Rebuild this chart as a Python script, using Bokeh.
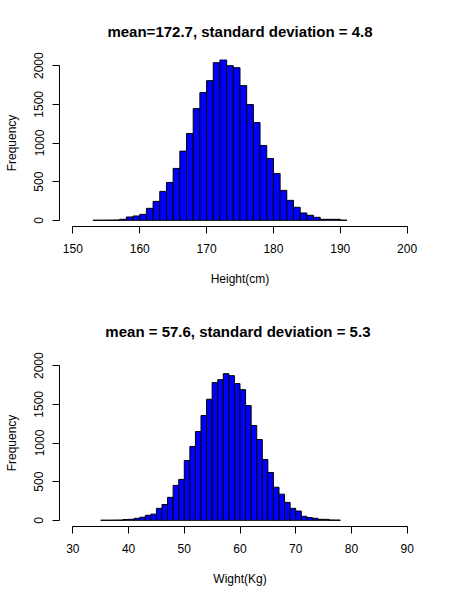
from bokeh.plotting import figure
from bokeh.models import Range1d, FixedTicker, ColumnDataSource
from bokeh.layouts import column
from bokeh.embed import file_html
from bokeh.resources import INLINE

# ---- data ----
height_edges = [153, 154, 155, 156, 157, 158, 159, 160, 161, 162, 163, 164, 165,
                166, 167, 168, 169, 170, 171, 172, 173, 174, 175, 176, 177, 178,
                179, 180, 181, 182, 183, 184, 185, 186, 187, 188, 189, 190, 191]
height_counts = [1, 1, 2, 4, 13, 43, 56, 77, 155, 245, 374, 490, 671, 895, 1123,
                 1445, 1652, 1806, 2039, 2077, 2000, 1974, 1742, 1497, 1264, 968,
                 800, 606, 387, 258, 168, 95, 65, 39, 13, 13, 13, 2]
height_ticks = [150, 160, 170, 180, 190, 200]

weight_edges = [35, 36, 37, 38, 39, 40, 41, 42, 43, 44, 45, 46, 47, 48, 49, 50,
                51, 52, 53, 54, 55, 56, 57, 58, 59, 60, 61, 62, 63, 64, 65, 66,
                67, 68, 69, 70, 71, 72, 73, 74, 75, 76, 77, 78]
weight_counts = [1, 1, 2, 3, 10, 13, 26, 40, 65, 80, 155, 204, 297, 452, 529,
                 774, 955, 1148, 1355, 1566, 1781, 1819, 1897, 1871, 1768, 1690,
                 1484, 1226, 1045, 787, 619, 428, 338, 232, 155, 120, 52, 36, 26,
                 13, 12, 4, 3]
weight_ticks = [30, 40, 50, 60, 70, 80, 90]

freq_ticks = [0, 500, 1000, 1500, 2000]

FONT = "Liberation Sans"


def make_hist(edges, counts, xticks, title, xlabel, fig_height, top_border, bottom_border):
    xlo, xhi = xticks[0], xticks[-1]
    pad = (xhi - xlo) * 0.04
    ylo, yhi = freq_ticks[0], freq_ticks[-1]
    ypad = (yhi - ylo) * 0.04
    p = figure(width=434, height=fig_height, output_backend="svg", toolbar_location=None,
               x_range=Range1d(xlo - pad, xhi + pad),
               y_range=Range1d(ylo - ypad, yhi + ypad),
               min_border_left=59, min_border_right=14,
               min_border_top=top_border, min_border_bottom=bottom_border,
               title=title)
    src = ColumnDataSource(dict(left=edges[:-1], right=edges[1:],
                                top=counts, bottom=[0] * len(counts)))
    p.quad(left="left", right="right", top="top", bottom="bottom", source=src,
           fill_color="#0000FF", line_color="black", line_width=1)

    p.grid.visible = False
    p.outline_line_color = None
    p.background_fill_color = "white"
    p.border_fill_color = "white"

    p.title.text_font = FONT
    p.title.text_font_size = "15px"
    p.title.text_font_style = "bold"
    p.title.align = "center"
    p.title.text_color = "black"
    p.title.standoff = 40

    for ax in (p.xaxis[0], p.yaxis[0]):
        ax.axis_line_color = "black"
        ax.axis_line_width = 1
        ax.major_tick_line_color = "black"
        ax.major_tick_out = 7
        ax.major_tick_in = 0
        ax.minor_tick_line_color = None
        ax.major_label_text_font = FONT
        ax.major_label_text_font_size = "12px"
        ax.major_label_text_color = "black"
        ax.axis_label_text_font = FONT
        ax.axis_label_text_font_size = "12px"
        ax.axis_label_text_font_style = "normal"
        ax.axis_label_text_color = "black"

    xa = p.xaxis[0]
    xa.ticker = FixedTicker(ticks=xticks)
    xa.bounds = (xlo, xhi)
    xa.major_label_standoff = 10
    xa.axis_label = xlabel
    xa.axis_label_standoff = 16

    ya = p.yaxis[0]
    ya.ticker = FixedTicker(ticks=freq_ticks)
    ya.bounds = (ylo, yhi)
    ya.major_label_orientation = "vertical"
    ya.major_label_standoff = 9
    ya.axis_label = "Frequency"
    ya.axis_label_standoff = 13
    return p


p1 = make_hist(height_edges, height_counts, height_ticks,
               "mean=172.7, standard deviation = 4.8", "Height(cm)", 300, 59, 74)
p2 = make_hist(weight_edges, weight_counts, weight_ticks,
               "mean = 57.6,  standard deviation = 5.3", "Wight(Kg)", 292, 59, 66)

layout = column(p1, p2, spacing=0)
open("out.html", "w").write(file_html(layout, INLINE))
